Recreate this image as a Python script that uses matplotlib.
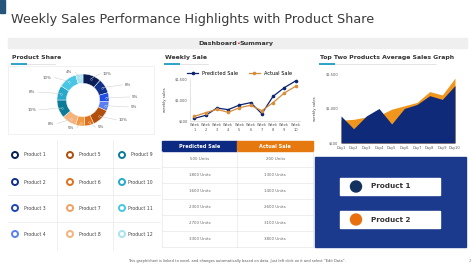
import numpy as np
import matplotlib
matplotlib.use("Agg")
import matplotlib.pyplot as plt
from matplotlib.patches import Rectangle, Circle

W, H = 474, 266

# ---- data ----
products = [f"Product {i}" for i in range(1, 13)]
share = [10, 8, 5, 5, 10, 5, 5, 8, 10, 8, 10, 4]
share_colors = ["#0a1d55", "#10308c", "#1f4fe6", "#5b7ff0", "#b24f0c", "#e0711c",
                "#f39a45", "#f6b27c", "#0b7c98", "#27a9cb", "#48c6e3", "#a9e2f1"]

weeks = [f"Week\n{i}" for i in range(1, 11)]
predicted = [563, 635, 810, 770, 880, 937, 675, 1087, 1294, 1452]
actual = [611, 698, 778, 706, 817, 873, 746, 937, 1167, 1325]

days = [f"Day{i}" for i in range(1, 11)]
product1_avg = [892, 706, 892, 1000, 775, 1000, 1059, 1186, 1132, 1333]
product2_avg = [830, 843, 877, 900, 990, 1039, 1088, 1245, 1196, 1441]

table_pred = ["500 Units", "1800 Units", "1600 Units", "2300 Units", "2700 Units", "3300 Units"]
table_act = ["200 Units", "1300 Units", "1400 Units", "2600 Units", "3100 Units", "3800 Units"]

NAVY = "#0d2470"
ORANGE = "#e5780f"
LINE_ORANGE = "#d98c3a"
AREA_NAVY = "#0e2a78"
AREA_ORANGE = "#f0961c"
TEAL = "#1c9cc4"

fig = plt.figure(figsize=(W / 100, H / 100), dpi=100)
bg = fig.add_axes([0, 0, 1, 1])
bg.set_xlim(0, W)
bg.set_ylim(H, 0)
bg.axis("off")


def px_axes(x0, y0, x1, y1):
    return fig.add_axes([x0 / W, 1 - y1 / H, (x1 - x0) / W, (y1 - y0) / H])


# title area
bg.add_patch(Rectangle((0, 0), 5, 13, color="#25557a"))
bg.text(11, 20, "Weekly Sales Performance Highlights with Product Share",
        fontsize=9.2, color="#3a3a3a", va="center", ha="left", family="DejaVu Sans")

bg.add_patch(Rectangle((8, 38), 459, 10, color="#efefef"))
bg.text(237, 43.5, "Dashboard", fontsize=4.6, fontweight="bold", color="#333333",
        ha="right", va="center")
bg.text(237, 43.5, "•", fontsize=4.6, color="#cc2222", ha="left", va="center")
bg.text(240, 43.5, "Summary", fontsize=4.6, fontweight="bold", color="#333333",
        ha="left", va="center")

# section headers
for x, txt, gray_end in [(12, "Product Share", 55), (165, "Weekly Sale", 208),
                         (320, "Top Two Products Average Sales Graph", 436)]:
    bg.text(x, 57.5, txt, fontsize=4.4, fontweight="bold", color="#333333",
            ha="left", va="center")
    bg.plot([x - 1, gray_end], [64, 64], color="#cfcfcf", lw=0.4)
    bg.plot([x - 1, x + 15], [64, 64], color=TEAL, lw=1.3, solid_capstyle="butt")

# faint panel frames
bg.add_patch(Rectangle((8, 66), 146, 68, fill=False, ec="#ececec", lw=0.5))

# ---- donut ----
cx, cy, R = 83, 100, 26
dax = px_axes(cx - 63, cy - 32, cx + 63, cy + 32)
wedges, _ = dax.pie(share, colors=share_colors, startangle=90, counterclock=False,
                    radius=1.0, wedgeprops=dict(width=0.36, edgecolor="white", linewidth=0.3))
dax.set_xlim(-63 / R, 63 / R)
dax.set_ylim(-32 / R, 32 / R)
dax.set_aspect("auto")
for w, val in zip(wedges, share):
    mid = np.deg2rad((w.theta1 + w.theta2) / 2)
    x, y = np.cos(mid), np.sin(mid)
    side = 1 if x >= 0 else -1
    lx, ly = 1.75 * x + side * 0.05, 1.08 * y
    dax.plot([x * 0.88, lx], [y * 0.88, ly], color="#cccccc", lw=0.35)
    dax.plot(x * 0.88, y * 0.88, "o", ms=1.2, color=w.get_facecolor(), mec="white", mew=0.2)
    dax.text(lx + side * 0.1, ly, f"{val}%", fontsize=2.9, color="#555555",
             ha="left" if side > 0 else "right", va="center")

# ---- weekly sale line chart ----
lax = px_axes(190, 79, 300, 121)
xs = np.arange(1, 11)
lax.plot(xs, predicted, color=NAVY, lw=0.9, marker="o", ms=1.6, label="Predicted Sale")
lax.plot(xs, actual, color=LINE_ORANGE, lw=0.9, marker="o", ms=1.6, label="Actual Sale")
lax.set_xlim(0.6, 10.4)
lax.set_ylim(500, 1500)
lax.set_yticks([500, 1000, 1500])
lax.set_yticklabels(["$500", "$1,000", "$1,500"])
lax.set_xticks(xs)
lax.set_xticklabels(weeks)
lax.tick_params(labelsize=2.6, length=0, pad=1.5, colors="#555555")
lax.set_ylabel("weekly sales", fontsize=2.8, color="#444444", labelpad=6)
for s in ["top", "right"]:
    lax.spines[s].set_visible(False)
for s in ["left", "bottom"]:
    lax.spines[s].set_color("#d0d0d0")
    lax.spines[s].set_linewidth(0.4)
lax.legend(loc="lower center", bbox_to_anchor=(0.45, 1.0), ncol=2, frameon=False,
           fontsize=3.6, handlelength=2.2, columnspacing=2.0, borderpad=0.1)

# ---- area chart ----
aax = px_axes(341, 74, 455, 143)
xd = np.arange(10)
aax.fill_between(xd, 500, product2_avg, color=AREA_ORANGE, lw=0)
aax.fill_between(xd, 500, product1_avg, color=AREA_NAVY, lw=0)
aax.set_xlim(0, 9)
aax.set_ylim(500, 1500)
aax.set_yticks([500, 1000, 1500])
aax.set_yticklabels(["$500", "$1,000", "$1,500"])
aax.set_xticks(xd)
aax.set_xticklabels(days)
aax.tick_params(labelsize=2.6, length=0, pad=2, colors="#555555")
aax.set_ylabel("weekly sales", fontsize=2.8, color="#444444", labelpad=6)
for s in aax.spines.values():
    s.set_visible(False)

# ---- product legend grid ----
ring_colors = ["#0a1d55", "#b24f0c", "#0b7c98",
               "#10308c", "#e0711c", "#27a9cb",
               "#1f45b8", "#f0a060", "#48c6e3",
               "#5b7ff0", "#f6b27c", "#a9e2f1"]
col_x = [15, 70, 122]
row_y = [155, 182, 208, 234]
for x in [57, 113]:
    bg.plot([x, x], [140, 250], color="#e4e4e4", lw=0.4)
for y in [168, 195, 222]:
    bg.plot([8, 160], [y, y], color="#e4e4e4", lw=0.4)
for c in range(3):
    for r in range(4):
        idx = c * 4 + r
        rc = ring_colors[r * 3 + c]
        bg.add_patch(Circle((col_x[c], row_y[r]), 3.0, fc="white", ec=rc, lw=1.4))
        bg.text(col_x[c] + 9 - (3 if c == 2 and r > 0 else 0), row_y[r], products[idx],
                fontsize=3.3, color="#444444", va="center", ha="left")

# ---- table ----
tx0, tx1, tmid = 162, 313, 237.5
bg.add_patch(Rectangle((tx0, 141), tmid - tx0, 10, color="#0c2a82"))
bg.add_patch(Rectangle((tmid, 141), tx1 - tmid, 10, color=ORANGE))
bg.text((tx0 + tmid) / 2, 146, "Predicted Sale", fontsize=3.6, color="white",
        fontweight="bold", ha="center", va="center")
bg.text((tmid + tx1) / 2, 146, "Actual Sale", fontsize=3.6, color="white",
        fontweight="bold", ha="center", va="center")
row_h = 16
for i, (p, a) in enumerate(zip(table_pred, table_act)):
    yc = 151 + row_h * i + row_h / 2
    bg.text((tx0 + tmid) / 2, yc, p, fontsize=2.9, color="#666666", ha="center", va="center")
    bg.text((tmid + tx1) / 2, yc, a, fontsize=2.9, color="#666666", ha="center", va="center")
    bg.plot([tx0, tx1], [151 + row_h * (i + 1)] * 2, color="#e2e2e2", lw=0.4)
bg.plot([tmid, tmid], [151, 247], color="#e2e2e2", lw=0.4)
bg.plot([tx0, tx0], [151, 247], color="#e2e2e2", lw=0.4)
bg.plot([tx1, tx1], [151, 247], color="#e2e2e2", lw=0.4)

# ---- blue legend box ----
bg.add_patch(Rectangle((315, 157), 151, 90, color="#1b3a8e"))
for y0, col, name in [(178, "#12315f", "Product 1"), (211, "#e8700f", "Product 2")]:
    bg.add_patch(Rectangle((340, y0), 100, 17, color="white"))
    bg.add_patch(Circle((356, y0 + 8.5), 5.5, color=col))
    bg.text(371, y0 + 8.5, name, fontsize=5.2, fontweight="bold", color="#333333",
            ha="left", va="center")

# footer
bg.text(237, 261, "This graph/chart is linked to excel, and changes automatically based on data. "
        "Just left click on it and select \u201cEdit Data\u201d.",
        fontsize=2.6, color="#555555", ha="center", va="center")
bg.text(470, 261, "2", fontsize=2.8, color="#888888", ha="center", va="center")

fig.savefig("out.png", dpi=100)
